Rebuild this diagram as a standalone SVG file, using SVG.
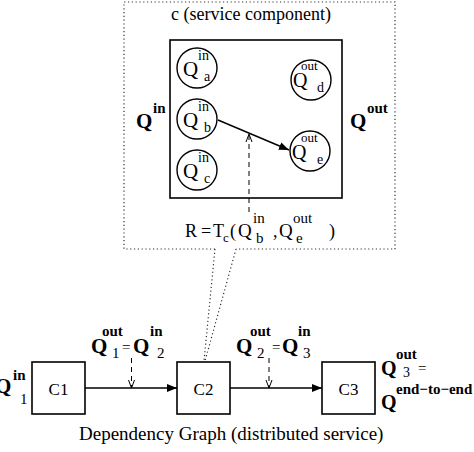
<svg xmlns="http://www.w3.org/2000/svg" width="474" height="452" viewBox="0 0 474 452">
<style>
text{font-family:"Liberation Serif","Times New Roman",serif;fill:#000}
.b{font-weight:bold}
.box{fill:none;stroke:#000;stroke-width:1.6}
.dot{fill:none;stroke:#333;stroke-width:1.2;stroke-dasharray:1.2,2.6}
.ln{fill:none;stroke:#000;stroke-width:1.4}
.dash{fill:none;stroke:#000;stroke-width:1;stroke-dasharray:5,4}
.open{fill:none;stroke:#000;stroke-width:1}
</style>
<defs>
<marker id="ah" viewBox="0 0 10 8" refX="10" refY="4" markerWidth="10" markerHeight="8" markerUnits="userSpaceOnUse" orient="auto">
<path d="M0,0 L10,4 L0,8 z" fill="#000"/>
</marker>
</defs>
<g id="service-frame">
<path class="dot" d="M215,249 H124 V2 H395 V249 H236"/>
<text x="171" y="20" font-size="18">c (service component)</text>
<text class="b" x="136" y="128" font-size="21">Q</text>
<text class="b" x="153" y="113" font-size="15">in</text>
<text class="b" x="350" y="128" font-size="21">Q</text>
<text class="b" x="367" y="113" font-size="15">out</text>
</g>
<g id="component-c">
<rect class="box" x="170" y="40" width="172" height="158"/>
</g>
<g id="Qa">
<circle class="ln" cx="197" cy="68" r="20"/>
<text x="183" y="76" font-size="21">Q</text>
<text x="198" y="60" font-size="14">in</text>
<text x="204" y="81" font-size="14">a</text>
</g>
<g id="Qb">
<circle class="ln" cx="197" cy="119" r="20"/>
<text x="183" y="127" font-size="21">Q</text>
<text x="198" y="111" font-size="14">in</text>
<text x="204" y="132" font-size="14">b</text>
</g>
<g id="Qc">
<circle class="ln" cx="197" cy="170" r="20"/>
<text x="183" y="178" font-size="21">Q</text>
<text x="198" y="162" font-size="14">in</text>
<text x="204" y="183" font-size="14">c</text>
</g>
<g id="Qd">
<circle class="ln" cx="311" cy="80" r="20"/>
<text x="293" y="87" font-size="20">Q</text>
<text x="301" y="70" font-size="13">out</text>
<text x="317" y="92" font-size="14">d</text>
</g>
<g id="Qe">
<circle class="ln" cx="310" cy="151" r="20"/>
<text x="292" y="159" font-size="20">Q</text>
<text x="301" y="142" font-size="13">out</text>
<text x="317" y="164" font-size="14">e</text>
</g>
<g id="formula">
<text x="185" y="237" font-size="18">R</text>
<text x="201" y="237" font-size="18">=</text>
<text x="213" y="237" font-size="18">T</text>
<text x="223" y="242" font-size="13">c</text>
<text x="230" y="237" font-size="18">(</text>
<text x="238" y="237" font-size="19">Q</text>
<text x="253" y="223" font-size="15">in</text>
<text x="256" y="243" font-size="15">b</text>
<text x="273" y="237" font-size="18">,</text>
<text x="279" y="237" font-size="19">Q</text>
<text x="293" y="223" font-size="15">out</text>
<text x="296" y="243" font-size="15">e</text>
<text x="329" y="237" font-size="18">)</text>
</g>
<g id="C1">
<rect class="box" x="32" y="362" width="53" height="52"/>
<text x="58.5" y="395" font-size="17" text-anchor="middle">C1</text>
</g>
<g id="C2">
<rect class="box" x="177" y="362" width="53" height="52"/>
<text x="203.5" y="395" font-size="17" text-anchor="middle">C2</text>
</g>
<g id="C3">
<rect class="box" x="322" y="362" width="53" height="52"/>
<text x="348.5" y="395" font-size="17" text-anchor="middle">C3</text>
</g>
<g id="labels">
<text class="b" x="-5" y="393" font-size="21">Q</text>
<text class="b" x="13" y="380" font-size="15">in</text>
<text x="20" y="404" font-size="15">1</text>

<text class="b" x="91" y="353" font-size="21">Q</text>
<text class="b" x="102" y="336" font-size="15">out</text>
<text x="112" y="358" font-size="15">1</text>
<text x="122" y="352" font-size="15">=</text>
<text class="b" x="133" y="353" font-size="21">Q</text>
<text class="b" x="150" y="336" font-size="15">in</text>
<text x="157" y="358" font-size="15">2</text>

<text class="b" x="236" y="353" font-size="21">Q</text>
<text class="b" x="250" y="336" font-size="15">out</text>
<text x="257" y="358" font-size="15">2</text>
<text x="272" y="352" font-size="15">=</text>
<text class="b" x="282" y="353" font-size="21">Q</text>
<text class="b" x="298" y="336" font-size="15">in</text>
<text x="303" y="358" font-size="15">3</text>

<text class="b" x="381" y="375" font-size="20">Q</text>
<text class="b" x="396" y="359" font-size="15">out</text>
<text x="403" y="377" font-size="14">3</text>
<text x="418" y="373" font-size="15">=</text>
<text class="b" x="381" y="409" font-size="20">Q</text>
<text class="b" x="396" y="394" font-size="15">end−to−end</text>

<text x="79" y="440" font-size="19">Dependency Graph (distributed service)</text>
</g>
<g id="connectors">
<line class="ln" x1="218" y1="120" x2="289" y2="150" marker-end="url(#ah)"/>
<line class="dash" x1="249" y1="212" x2="249" y2="135"/>
<path class="open" d="M246,142 L249,134 L252,142"/>
<line class="dot" x1="215" y1="249" x2="204" y2="361"/>
<line class="dot" x1="236" y1="249" x2="205" y2="361"/>
<line class="ln" x1="85" y1="388" x2="177" y2="388" marker-end="url(#ah)"/>
<line class="ln" x1="230" y1="388" x2="322" y2="388" marker-end="url(#ah)"/>
<line class="dash" x1="131.5" y1="358" x2="131.5" y2="387"/>
<path class="open" d="M128.5,380 L131.5,388 L134.5,380"/>
<line class="dash" x1="269" y1="358" x2="269" y2="387"/>
<path class="open" d="M266,380 L269,388 L272,380"/>
</g>
</svg>
